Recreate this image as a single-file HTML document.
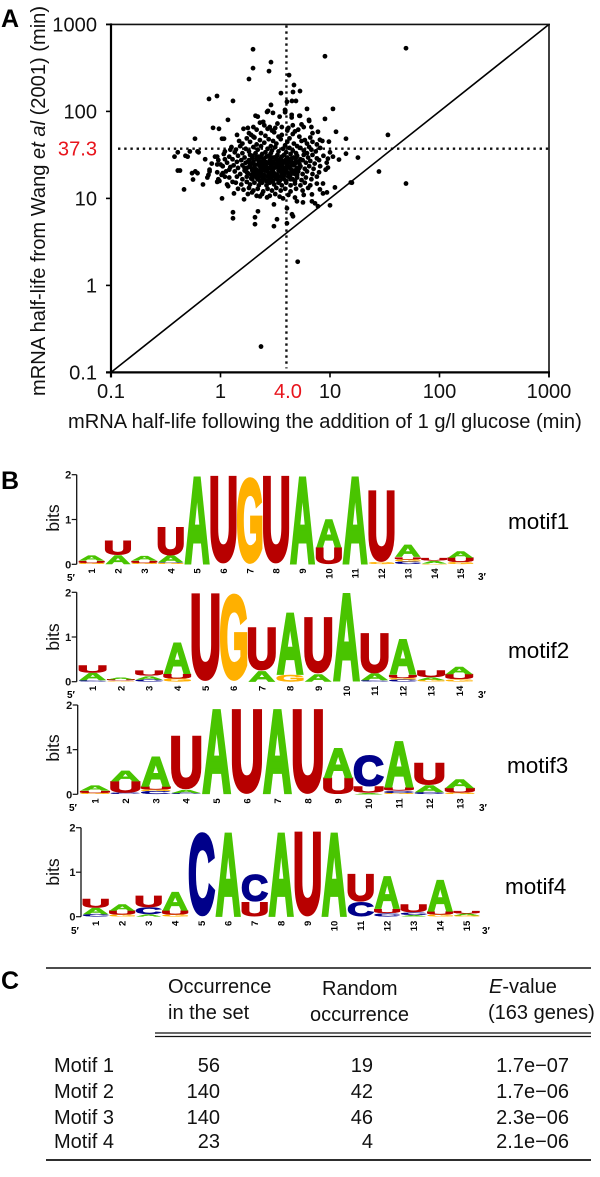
<!DOCTYPE html>
<html lang="en">
<head>
<meta charset="utf-8">
<title>mRNA half-life scatter, motif logos and occurrence table</title>
<style>
html,body{margin:0;padding:0;background:#fff;width:600px;height:1177px;overflow:hidden}
svg{display:block}
text{font-family:"Liberation Sans",sans-serif;fill:#111}
.big{font-size:20.1px}
.tb{font-size:20px}
.panel{font-size:25px;font-weight:bold;fill:#000}
.motif{font-size:22.5px;fill:#000}
.bits{font-size:17.5px}
</style>
</head>
<body>
<svg id="figure" xmlns="http://www.w3.org/2000/svg" width="600" height="1177" viewBox="0 0 600 1177">
<rect width="600" height="1177" fill="#fff"/>

<text class="panel" x="1" y="27">A</text>
<g id="scatter"></g>
<text class="big" x="68" y="428">mRNA half-life following the addition of 1 g/l glucose (min)</text>
<text class="big" transform="translate(45,201) rotate(-90)" text-anchor="middle">mRNA half-life from Wang <tspan font-style="italic">et al</tspan> (2001) (min)</text>

<text class="panel" x="1" y="489">B</text>
<g id="logos"></g>

<text class="panel" x="1" y="989">C</text>
<g>
<line x1="46" x2="591" y1="968" y2="968" stroke="#111" stroke-width="1.6"/>
<line x1="155" x2="591" y1="1033" y2="1033" stroke="#111" stroke-width="1.2"/>
<line x1="155" x2="591" y1="1036.5" y2="1036.5" stroke="#111" stroke-width="1.2"/>
<line x1="46" x2="591" y1="1160" y2="1160" stroke="#111" stroke-width="1.8"/>
<text class="tb" x="168" y="993">Occurrence</text>
<text class="tb" x="168" y="1019">in the set</text>
<text class="tb" x="322" y="995">Random</text>
<text class="tb" x="310" y="1021">occurrence</text>
<text class="tb" x="489" y="993"><tspan font-style="italic">E</tspan>-value</text>
<text class="tb" x="488" y="1019">(163 genes)</text>

<text class="tb" x="54" y="1072">Motif 1</text>
<text class="tb" x="220" y="1072" text-anchor="end">56</text>
<text class="tb" x="373" y="1072" text-anchor="end">19</text>
<text class="tb" x="569" y="1072" text-anchor="end">1.7e−07</text>

<text class="tb" x="54" y="1098">Motif 2</text>
<text class="tb" x="220" y="1098" text-anchor="end">140</text>
<text class="tb" x="373" y="1098" text-anchor="end">42</text>
<text class="tb" x="569" y="1098" text-anchor="end">1.7e−06</text>

<text class="tb" x="54" y="1124">Motif 3</text>
<text class="tb" x="220" y="1124" text-anchor="end">140</text>
<text class="tb" x="373" y="1124" text-anchor="end">46</text>
<text class="tb" x="569" y="1124" text-anchor="end">2.3e−06</text>

<text class="tb" x="54" y="1148">Motif 4</text>
<text class="tb" x="220" y="1148" text-anchor="end">23</text>
<text class="tb" x="373" y="1148" text-anchor="end">4</text>
<text class="tb" x="569" y="1148" text-anchor="end">2.1e−06</text>
</g>
</svg>
<script>
// ---- Panel A data (log10 of half-life in minutes) ----
const xTickLabels = ["0.1", "1", "10", "100", "1000"];
const yTickLabels = ["0.1", "1", "10", "100", "1000"];
const tickLogValues = [-1, 0, 1, 2, 3];
const medianGlucose = [4.0];
const medianWang = [37.3];
const halfLifeOutliers = [
[.297,2.714],[.297,2.497],[.461,2.566],[.443,2.463],[.26,2.372],[.626,2.417],[-.105,2.143],[-.032,2.177],[.114,2.12],[.068,1.903],
[-.068,1.811],[-.014,1.8],[-.233,1.686],[.151,1.73],[.014,1.686],[.032,1.686],[.552,2.21],[.671,2.303],[.662,2.223],[.653,2.12],
[.689,2.12],[.461,2.074],[.425,1.994],[.589,2.017],[.479,1.983],[1.694,2.726],[1.694,1.171],[.954,2.634],[1.529,1.73],[1.447,1.309],
[1.19,1.183],[.705,.272],[.37,-.703],[1,.92],[1.2,1.18],[.726,2.234],[.607,2.11],[.434,2.006],[.79,2.029],[1.027,2.029],
[.954,1.914],[.726,1.949],[.808,1.903],[1.055,1.766],[.89,1.766],[1.146,1.686],[.99,1.652],[.908,1.674],[1.146,1.514],[1.255,1.469],
[.981,1.457],[1.027,1.48],[1.082,1.446],[.981,1.354],[.89,.909],[.835,.966],[.863,.943],[.835,1.046],[.753,.954],[.698,.966],
[.607,.886],[.488,.931],[.571,1],[.516,.76],[.488,.68],[.653,.817],[.662,.794],[.607,.714],[.908,1.103],[.972,1.069],
[.936,1.057],[1.045,1.126],[.936,1.171],[.425,1.011],[-.333,1.103],[-.251,1.217],[-.16,1.16],[.014,1],[.123,1.057],[.215,.989],
[.288,1.069],[.361,1.023],[.114,.84],[.114,.771],[.342,.851],[.315,.783],[.315,.703]
];
const halfLifeLeftFlank = [
[-.42,1.48],[-.39,1.53],[-.32,1.49],[-.30,1.48],[-.28,1.54],[-.21,1.54],[-.20,1.53],[-.05,1.48],[-.03,1.48],[-.39,1.32],
[-.37,1.32],[-.23,1.31],[-.26,1.29],[-.21,1.29],[-.10,1.33],[-.03,1.39],[0,1.39],[.02,1.37],[.04,1.54],[.09,1.56],
[.04,1.45],[-.11,1.27],[-.10,1.31],[-.03,1.19],[-.02,1.22],[.06,1.16],[.07,1.14],[.11,1.19],[.04,1.25],[-.03,1.30],
[-.14,1.45],[-.08,1.40],[-.12,1.24],[.01,1.27],[.02,1.29],[.08,1.33],[.09,1.36],[-.01,1.20]
];
const halfLifeUpperBand = [
[.32,1.95],[.34,1.94],[.54,1.94],[.59,1.99],[.65,1.96],[.65,1.93],[.72,1.95],[.81,1.89],[.83,1.82],[.84,1.75],
[.21,1.80],[.25,1.81],[.30,1.82],[.36,1.87],[.39,1.88],[.26,1.75],[.30,1.71],[.33,1.79],[.45,1.82],[.50,1.81],
[.56,1.82],[.62,1.81],[.68,1.77],[.74,1.85],[.76,1.82],[.82,1.70],[.84,1.65],[.40,1.84],[.43,1.80],[.61,1.78],
[.66,1.84],[.71,1.79],[.47,1.78],[.52,1.86]
];
const halfLifeCore = [
[.28,1.73],[.31,1.70],[.37,1.75],[.41,1.72],[.44,1.68],[.49,1.76],[.53,1.71],[.56,1.73],[.63,1.69],[.66,1.74],[.72,1.71],[.77,1.67],
[.17,1.66],[.20,1.63],[.24,1.69],[.27,1.65],[.33,1.62],[.36,1.67],[.40,1.64],[.46,1.60],[.48,1.66],[.51,1.63],[.55,1.68],[.59,1.61],[.61,1.65],[.67,1.63],[.70,1.60],[.74,1.66],[.79,1.63],[.81,1.59],[.88,1.62],[.93,1.66],
[.10,1.59],[.14,1.56],[.18,1.60],[.23,1.57],[.26,1.54],[.30,1.59],[.34,1.56],[.37,1.60],[.41,1.53],[.43,1.57],[.47,1.55],[.50,1.59],[.53,1.54],[.57,1.57],[.60,1.53],[.63,1.58],[.66,1.55],[.69,1.52],[.73,1.58],[.76,1.55],[.79,1.52],[.83,1.56],[.87,1.54],[.91,1.58],[1.0,1.53],
[.03,1.51],[.08,1.48],[.13,1.53],[.16,1.49],[.20,1.52],[.22,1.47],[.27,1.50],[.29,1.46],[.32,1.52],[.35,1.48],[.38,1.51],[.40,1.46],[.44,1.49],[.46,1.52],[.49,1.47],[.52,1.50],[.55,1.46],[.58,1.50],[.61,1.47],[.64,1.51],[.67,1.47],[.70,1.49],[.73,1.45],[.76,1.50],[.80,1.47],[.84,1.50],[.88,1.46],[.94,1.49],
[-.02,1.44],[.06,1.41],[.11,1.45],[.15,1.42],[.19,1.44],[.23,1.41],[.26,1.44],[.30,1.42],[.33,1.45],[.36,1.41],[.39,1.43],[.42,1.40],[.45,1.44],[.48,1.42],[.51,1.45],[.54,1.41],[.57,1.43],[.60,1.40],[.63,1.44],[.66,1.41],[.69,1.43],[.72,1.40],[.75,1.44],[.78,1.41],[.82,1.43],[.86,1.40],[.90,1.44],[.97,1.41],
[.02,1.37],[.12,1.38],[.16,1.35],[.20,1.38],[.24,1.35],[.27,1.38],[.31,1.36],[.34,1.39],[.37,1.35],[.40,1.37],[.43,1.34],[.46,1.38],[.49,1.35],[.52,1.38],[.55,1.36],[.58,1.33],[.61,1.37],[.64,1.34],[.67,1.38],[.70,1.35],[.73,1.37],[.77,1.34],[.81,1.37],[.85,1.34],[.91,1.37],[.96,1.33],
[.05,1.31],[.13,1.31],[.18,1.28],[.22,1.32],[.25,1.29],[.29,1.32],[.32,1.29],[.35,1.31],[.38,1.28],[.41,1.32],[.44,1.29],[.47,1.31],[.50,1.28],[.53,1.32],[.56,1.29],[.59,1.31],[.62,1.28],[.65,1.31],[.68,1.28],[.71,1.31],[.75,1.28],[.79,1.31],[.84,1.28],[.90,1.30],
[.08,1.24],[.15,1.25],[.20,1.22],[.24,1.25],[.28,1.23],[.31,1.26],[.34,1.22],[.37,1.25],[.40,1.22],[.43,1.25],[.46,1.23],[.49,1.25],[.52,1.22],[.55,1.25],[.58,1.22],[.62,1.25],[.66,1.22],[.70,1.24],[.74,1.21],[.78,1.24],[.83,1.22],[.88,1.25],
[.14,1.18],[.19,1.16],[.24,1.19],[.27,1.16],[.31,1.18],[.35,1.15],[.38,1.18],[.42,1.15],[.45,1.18],[.49,1.16],[.53,1.18],[.56,1.15],[.60,1.18],[.64,1.15],[.68,1.17],[.73,1.15],[.77,1.18],[.82,1.15],[.88,1.17],
[.16,1.11],[.21,1.10],[.26,1.12],[.30,1.09],[.34,1.11],[.39,1.08],[.43,1.11],[.47,1.09],[.51,1.12],[.55,1.09],[.59,1.11],[.64,1.08],[.69,1.11],[.75,1.09],[.80,1.12],
[.25,1.05],[.33,1.03],[.38,1.05],[.45,1.03],[.50,1.05],[.54,1.02],[.62,1.04],[.68,1.01],[.76,1.04]
];
const halfLifeDenseCentre = [
[.29,1.49],[.33,1.48],[.37,1.47],[.42,1.48],[.47,1.47],[.51,1.48],[.56,1.48],[.60,1.45],[.65,1.46],[.69,1.47],
[.25,1.42],[.28,1.40],[.31,1.39],[.35,1.43],[.38,1.39],[.41,1.42],[.44,1.41],[.47,1.39],[.50,1.40],[.53,1.43],[.56,1.39],[.59,1.42],[.62,1.41],[.65,1.39],[.68,1.40],[.71,1.42],
[.22,1.35],[.26,1.36],[.29,1.34],[.33,1.33],[.36,1.37],[.39,1.33],[.42,1.36],[.45,1.35],[.48,1.33],[.51,1.36],[.54,1.33],[.57,1.36],[.60,1.34],[.63,1.36],[.66,1.32],[.69,1.33],[.72,1.35],
[.24,1.30],[.28,1.27],[.31,1.30],[.34,1.27],[.37,1.30],[.40,1.27],[.43,1.31],[.46,1.27],[.49,1.29],[.52,1.27],[.55,1.31],[.58,1.27],[.61,1.30],[.64,1.27],[.67,1.30],[.70,1.27],
[.29,1.22],[.33,1.24],[.36,1.20],[.39,1.23],[.42,1.20],[.45,1.22],[.48,1.20],[.51,1.23],[.54,1.20],[.57,1.23],[.60,1.20],[.64,1.22],[.68,1.20]
];

// ---- Panel B data: letter stacks per position, bottom to top, in bits ----
const motif1Stacks = [
[["G",.03],["U",.05],["A",.12]],[["A",.2],["U",.33]],[["G",.03],["U",.05],["A",.1]],[["G",.03],["C",.02],["A",.15],["U",.64]],
[["A",1.95]],[["U",1.96]],[["G",1.95]],[["U",1.96]],[["A",1.95]],[["U",.38],["A",.62]],[["A",1.95]],[["G",.05],["U",1.6]],
[["C",.06],["G",.05],["U",.05],["A",.28]],[["G",.02],["A",.06],["U",.06]],[["G",.05],["U",.1],["A",.13]]
];
const motif2Stacks = [
[["C",.03],["A",.17],["U",.17]],[["G",.02],["U",.03],["A",.04]],[["C",.05],["A",.08],["U",.12]],[["G",.07],["U",.1],["A",.7]],
[["U",1.97]],[["G",1.97]],[["A",.25],["U",.97]],[["G",.15],["A",1.4]],[["A",.17],["U",1.27]],[["A",1.97]],
[["C",.03],["A",.15],["U",.9]],[["C",.05],["G",.03],["U",.08],["A",.79]],[["G",.04],["A",.06],["U",.16]],[["G",.05],["U",.12],["A",.17]]
];
const motif3Stacks = [
[["G",.03],["U",.05],["A",.12]],[["C",.03],["U",.26],["A",.25]],[["C",.07],["G",.03],["U",.07],["A",.68]],[["C",.03],["A",.07],["U",1.21]],
[["A",1.9]],[["U",1.91]],[["A",1.9]],[["U",1.91]],[["U",.37],["A",.68]],[["A",.03],["U",.14],["C",.72]],
[["G",.03],["C",.05],["U",.07],["A",1.05]],[["C",.05],["A",.15],["U",.5]],[["G",.03],["U",.1],["A",.19]]
];
const motif4Stacks = [
[["C",.06],["A",.14],["U",.2]],[["G",.04],["U",.09],["A",.14]],[["A",.05],["C",.16],["U",.26]],[["G",.05],["U",.09],["A",.42]],
[["C",1.9]],[["A",1.9]],[["U",.33],["C",.62]],[["A",1.9]],[["U",1.92]],[["A",1.9]],
[["C",.33],["U",.63]],[["C",.08],["U",.09],["A",.73]],[["A",.03],["C",.07],["U",.18]],[["G",.04],["U",.08],["A",.71]],[["G",.03],["A",.04],["U",.06]]
];
const bitTicks = [0, 1, 2];
const bitTickLabels = ["0", "1", "2"];
const motifNames = ["motif1", "motif2", "motif3", "motif4"];

const SVGNS = "http://www.w3.org/2000/svg";
function make(parent, tag, attrs, txt) {
  const el = document.createElementNS(SVGNS, tag);
  for (const k in attrs) el.setAttribute(k, attrs[k]);
  if (txt !== undefined) el.textContent = txt;
  parent.appendChild(el);
  return el;
}

// ---- Panel A ----
const scatter = document.getElementById("scatter");
const xScale = v => 220.5 + 109.5 * v;
const yScale = v => 198.4 - 87 * (v - 1);
const ax0 = xScale(-1), ax1 = xScale(3), ay0 = yScale(-1), ay1 = yScale(3);

const refV = make(scatter, "line", {x1: xScale(Math.log10(medianGlucose[0])), x2: xScale(Math.log10(medianGlucose[0])), y1: ay1 + 1, y2: ay0 - 4, stroke: "#111", "stroke-width": 2.4, "stroke-dasharray": "2.4 3.6"});


const refH = make(scatter, "line", {x1: ax0 + 7, x2: ax1, y1: yScale(Math.log10(medianWang[0])), y2: yScale(Math.log10(medianWang[0])), stroke: "#111", "stroke-width": 2.4, "stroke-dasharray": "2.4 3.8"});



const allPoints = halfLifeOutliers.concat(halfLifeLeftFlank, halfLifeUpperBand, halfLifeCore, halfLifeDenseCentre);
allPoints.forEach(p => {
  const dot = make(scatter, "circle", {cx: xScale(p[0]), cy: yScale(p[1]), r: 2.4, fill: "#000"});
  
  
});

const diag = make(scatter, "line", {x1: xScale(-1), y1: yScale(-1), x2: xScale(3), y2: yScale(3), stroke: "#000", "stroke-width": 1.6});



const frameTop = make(scatter, "line", {x1: ax0 - 5, x2: ax1 + 1, y1: ay1, y2: ay1, stroke: "#111", "stroke-width": 1.6});


const frameRight = make(scatter, "line", {x1: ax1, x2: ax1, y1: ay1, y2: ay0 + 5, stroke: "#111", "stroke-width": 1.6});


const xAxis = make(scatter, "line", {x1: ax0 - 5, x2: ax1 + 1, y1: ay0, y2: ay0, stroke: "#000", "stroke-width": 2.2});


const yAxis = make(scatter, "line", {x1: ax0, x2: ax0, y1: ay1 - 1, y2: ay0 + 5, stroke: "#000", "stroke-width": 2.2});



tickLogValues.forEach((v, i) => {
  const xt = make(scatter, "line", {x1: xScale(v), x2: xScale(v), y1: ay0, y2: ay0 + 5, stroke: "#000", "stroke-width": 1.6});
  
  
  const yt = make(scatter, "line", {x1: ax0 - 5, x2: ax0, y1: yScale(v), y2: yScale(v), stroke: "#000", "stroke-width": 1.6});
  
  
  const xl = make(scatter, "text", {x: xScale(v), y: 398, "text-anchor": "middle", class: "big"}, xTickLabels[i]);
  
  
  const yl = make(scatter, "text", {x: 97, y: yScale(v) + 7, "text-anchor": "end", class: "big"}, yTickLabels[i]);
  
  
});
const medX = make(scatter, "text", {x: xScale(Math.log10(medianGlucose[0])) + 1.5, y: 398, "text-anchor": "middle", class: "big", style: "fill:#e8141c"}, medianGlucose[0].toFixed(1));


const medY = make(scatter, "text", {x: 97, y: yScale(Math.log10(medianWang[0])) + 7, "text-anchor": "end", class: "big", style: "fill:#e8141c"}, medianWang[0].toFixed(1));



// ---- Panel B ----
const logos = document.getElementById("logos");
const letterColor = {A: "#49c400", U: "#b80000", G: "#ffb000", C: "#00008a"};
// ink box of each bold glyph at font-size 100, widened by half the letter stroke
const strokeUnits = 5;
const ink = {A: [-1.5, 73.7, -2.5, 71.3], U: [4.3, 68, -3.9, 71.3], G: [1.8, 74.5, -3.9, 72.7], C: [2, 71, -3.9, 72.7]};
const logoLayouts = [
  {axisX: 76.7, y2: 474.7, y0: 564.3, first: 91.7, col: 26.35, five: [67, 581], three: [478, 580], bitsY: 518, nameX: 508, nameY: 529},
  {axisX: 76.7, y2: 592.3, y0: 681.7, first: 92.7, col: 28.2, five: [67, 698], three: [478, 698], bitsY: 637, nameX: 508, nameY: 658},
  {axisX: 77.7, y2: 705, y0: 794.3, first: 95, col: 30.4, five: [69, 811], three: [479, 811], bitsY: 748, nameX: 507, nameY: 773},
  {axisX: 81, y2: 827.7, y0: 916.7, first: 95.7, col: 26.5, five: [71, 934], three: [482, 934], bitsY: 872, nameX: 505, nameY: 894}
];
[motif1Stacks, motif2Stacks, motif3Stacks, motif4Stacks].forEach((stacks, m) => {
  const L = logoLayouts[m];
  const g = make(logos, "g", {});
  
  
  const bitY = b => L.y0 - (L.y0 - L.y2) / 2 * b;

  stacks.forEach((stack, i) => {
    const cx = L.first + i * L.col;
    const w = L.col * 0.97;
    let acc = 0;
    stack.forEach(s => {
      const ch = s[0], h = s[1];
      const box = ink[ch];
      const yBottom = bitY(acc), yTop = bitY(acc + h);
      const sx = w / (box[1] - box[0]);
      const sy = (yBottom - yTop) / (box[3] - box[2]);
      const tx = cx - w / 2 - box[0] * sx;
      const ty = yBottom + box[2] * sy;
      const t = make(g, "text", {transform: "translate(" + tx + "," + ty + ") scale(" + sx + "," + sy + ")", "font-size": 100, "font-weight": "bold", "stroke-width": strokeUnits, style: "fill:" + letterColor[ch] + ";stroke:" + letterColor[ch]}, ch);
      
      
      acc += h;
    });
    const num = make(g, "text", {transform: "translate(" + (cx + 3.5) + "," + (L.y0 + 4) + ") rotate(-90)", "text-anchor": "end", "font-size": 9.5, "font-weight": "bold", style: "fill:#000"}, String(i + 1));
    
    
  });

  const axis = make(g, "line", {x1: L.axisX, x2: L.axisX, y1: L.y2, y2: L.y0, stroke: "#111", "stroke-width": 1.3});
  
  
  bitTicks.forEach((b, i) => {
    const tk = make(g, "line", {x1: L.axisX - 5, x2: L.axisX, y1: bitY(b), y2: bitY(b), stroke: "#111", "stroke-width": 1.2});
    
    
    const tl = make(g, "text", {x: L.axisX - 5.5, y: bitY(b) + 4, "text-anchor": "end", "font-size": 11, "font-weight": "bold", style: "fill:#111"}, bitTickLabels[i]);
    
    
  });
  const bitsTitle = make(g, "text", {transform: "translate(59," + L.bitsY + ") rotate(-90)", "text-anchor": "middle", class: "bits"}, "bits");
  
  
  const five = make(g, "text", {x: L.five[0], y: L.five[1], "font-size": 10, "font-weight": "bold", style: "fill:#000"}, "5′");
  
  
  const three = make(g, "text", {x: L.three[0], y: L.three[1], "font-size": 10, "font-weight": "bold", style: "fill:#000"}, "3′");
  
  
  const name = make(g, "text", {x: L.nameX, y: L.nameY, class: "motif"}, motifNames[m]);
  
  
});
</script>
</body>
</html>
